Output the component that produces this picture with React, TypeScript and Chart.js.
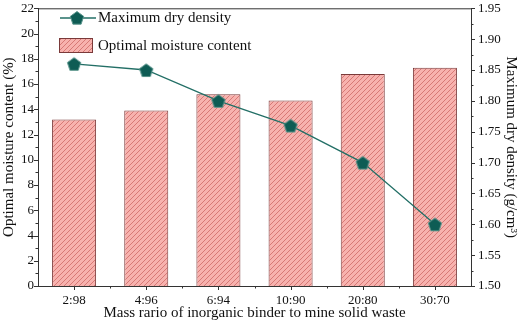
import React, { useEffect, useRef } from 'react';
import { Chart, registerables } from 'chart.js';
Chart.register(...registerables);

const categories = ['2:98', '4:96', '6:94', '10:90', '20:80', '30:70'];
const moisture = [13.2, 13.9, 15.2, 14.7, 16.8, 17.3];
const density = [1.86, 1.85, 1.80, 1.76, 1.70, 1.60];
const leftRange = { min: 0, max: 22, step: 2, minor: 1 };
const rightRange = { min: 1.5, max: 1.95, step: 0.05, minor: 0.025 };
const lineLabel = 'Maximum dry density';
const barLabel = 'Optimal moisture content';
const leftTitle = 'Optimal moisture content (%)';
const rightTitle = 'Maximum dry density (g/cm³)';
const xTitle = 'Mass rario of inorganic binder to mine solid waste';

const FONT = "'Liberation Serif', 'Times New Roman', serif";
const AXIS = '#333333';
const LINE = '#236f66';
const MARK = '#0e5c54';

function makePattern(): CanvasPattern | string {
  const s = 5;
  const c = document.createElement('canvas');
  c.width = s; c.height = s;
  const g = c.getContext('2d');
  if (!g) return '#f5a5a3';
  g.fillStyle = '#f7b2ae';
  g.fillRect(0, 0, s, s);
  g.strokeStyle = '#d2736f';
  g.lineWidth = 0.9;
  g.beginPath();
  g.moveTo(-1, s + 1); g.lineTo(s + 1, -1);
  g.moveTo(-1, 1); g.lineTo(1, -1);
  g.moveTo(s - 1, s + 1); g.lineTo(s + 1, s - 1);
  g.stroke();
  const p = g.createPattern(c, 'repeat');
  return p || '#f5a5a3';
}

function drawPentagon(g: CanvasRenderingContext2D, cx: number, cy: number, r: number) {
  g.beginPath();
  for (let i = 0; i < 5; i++) {
    const a = -Math.PI / 2 + (i * 2 * Math.PI) / 5;
    const x = cx + r * Math.cos(a);
    const y = cy + r * Math.sin(a);
    if (i === 0) g.moveTo(x, y); else g.lineTo(x, y);
  }
  g.closePath();
  g.fillStyle = MARK;
  g.fill();
  g.strokeStyle = '#5a958c';
  g.lineWidth = 1;
  g.stroke();
}

function makePentagon(r: number): HTMLCanvasElement {
  const size = Math.ceil(r * 2 + 4);
  const c = document.createElement('canvas');
  c.width = size; c.height = size;
  const g = c.getContext('2d');
  if (g) drawPentagon(g, size / 2, size / 2 + 0.8, r);
  return c;
}

export default function App() {
  const ref = useRef<HTMLCanvasElement>(null);
  useEffect(() => {
    document.body.style.margin = '0';
    const canvas = ref.current;
    if (!canvas) return;
    const pattern = makePattern();
    const pent = makePentagon(7);

    const frame = {
      id: 'frame',
      afterDraw(chart: any) {
        const { ctx, chartArea } = chart;
        const { left, right, top, bottom } = chartArea;
        ctx.save();
        ctx.strokeStyle = AXIS;
        ctx.lineWidth = 1;
        ctx.beginPath();
        ctx.moveTo(left, top + 0.5); ctx.lineTo(right, top + 0.5);
        const yl = chart.scales.y;
        for (let i = 0; ; i++) {
          const v = leftRange.min + i * leftRange.minor;
          if (v > leftRange.max + 1e-9) break;
          const p = Math.round(yl.getPixelForValue(v)) + 0.5;
          const major = i % 2 === 0;
          ctx.moveTo(left, p); ctx.lineTo(left - (major ? 4 : 2.5), p);
        }
        const yr = chart.scales.y1;
        for (let i = 0; ; i++) {
          const v = rightRange.min + i * rightRange.minor;
          if (v > rightRange.max + 1e-9) break;
          const p = Math.round(yr.getPixelForValue(v)) + 0.5;
          const major = i % 2 === 0;
          ctx.moveTo(right, p); ctx.lineTo(right + (major ? 4 : 2.5), p);
        }
        const xs = chart.scales.x;
        const n = categories.length;
        for (let i = 0; i < n; i++) {
          const c = Math.round(xs.getPixelForValue(i)) + 0.5;
          ctx.moveTo(c, bottom); ctx.lineTo(c, bottom + 4);
          if (i < n - 1) {
            const b = Math.round((xs.getPixelForValue(i) + xs.getPixelForValue(i + 1)) / 2) + 0.5;
            ctx.moveTo(b, bottom); ctx.lineTo(b, bottom + 2.5);
          }
        }
        ctx.stroke();

        // legend
        ctx.strokeStyle = LINE;
        ctx.lineWidth = 1.5;
        ctx.beginPath();
        ctx.moveTo(60, 18); ctx.lineTo(96, 18);
        ctx.stroke();
        drawPentagon(ctx, 77, 18.5, 7);
        ctx.fillStyle = pattern as any;
        ctx.fillRect(59, 38, 34, 15);
        ctx.strokeStyle = '#7a3a3a';
        ctx.lineWidth = 1;
        ctx.strokeRect(59.5, 38.5, 33, 14);
        ctx.fillStyle = '#111';
        ctx.font = `15px ${FONT}`;
        ctx.textBaseline = 'middle';
        ctx.textAlign = 'left';
        ctx.fillText(lineLabel, 98, 18);
        ctx.fillText(barLabel, 98, 46);
        ctx.restore();
      },
    };

    const zeroPad = (s: any) => {
      s.paddingTop = 0; s.paddingBottom = 0; s.paddingLeft = 0; s.paddingRight = 0;
    };

    const chart = new Chart(canvas, {
      data: {
        labels: categories,
        datasets: [
          {
            type: 'line',
            label: lineLabel,
            data: density,
            yAxisID: 'y1',
            borderColor: LINE,
            borderWidth: 1.3,
            pointStyle: pent as any,
            pointRadius: 7,
            order: 0,
          },
          {
            type: 'bar',
            label: barLabel,
            data: moisture,
            yAxisID: 'y',
            backgroundColor: pattern as any,
            borderColor: '#7a3a3a',
            borderWidth: 1,
            barPercentage: 0.61,
            categoryPercentage: 1,
            order: 1,
          },
        ],
      },
      options: {
        responsive: false,
        animation: false,
        layout: { padding: { top: 5, left: 0, right: 0, bottom: 0 } },
        plugins: { legend: { display: false }, tooltip: { enabled: false } },
        scales: {
          x: {
            offset: true,
            grid: { display: false, drawTicks: false },
            border: { display: true, color: AXIS, width: 1 },
            ticks: { color: '#111', font: { family: FONT, size: 13 }, padding: 7 },
            title: { display: true, text: xTitle, color: '#111', font: { family: FONT, size: 15 }, padding: { top: 0, bottom: 1 } },
            afterFit: (s: any) => { s.height = 37; zeroPad(s); },
          },
          y: {
            position: 'left',
            min: leftRange.min,
            max: leftRange.max,
            grid: { display: false, drawTicks: false },
            border: { display: true, color: AXIS, width: 1 },
            ticks: { stepSize: leftRange.step, color: '#111', font: { family: FONT, size: 13 }, padding: 4 },
            title: { display: true, text: leftTitle, color: '#111', font: { family: FONT, size: 15 }, padding: { top: 0, bottom: 0 } },
            afterFit: (s: any) => { s.width = 38; zeroPad(s); },
          },
          y1: {
            position: 'right',
            min: rightRange.min,
            max: rightRange.max,
            grid: { display: false, drawTicks: false },
            border: { display: true, color: AXIS, width: 1 },
            ticks: {
              stepSize: rightRange.step,
              color: '#111',
              font: { family: FONT, size: 13 },
              padding: 7,
              callback: (v: any) => Number(v).toFixed(2),
            },
            title: { display: true, text: rightTitle, color: '#111', font: { family: FONT, size: 15 }, padding: { top: 0, bottom: 0 } },
            afterFit: (s: any) => { s.width = 49; zeroPad(s); },
          },
        },
      },
      plugins: [frame],
    } as any);
    return () => chart.destroy();
  }, []);
  return (
    <div style={{ width: 520, height: 323 }}>
      <canvas ref={ref} width={520} height={323} style={{ display: 'block' }} />
    </div>
  );
}
